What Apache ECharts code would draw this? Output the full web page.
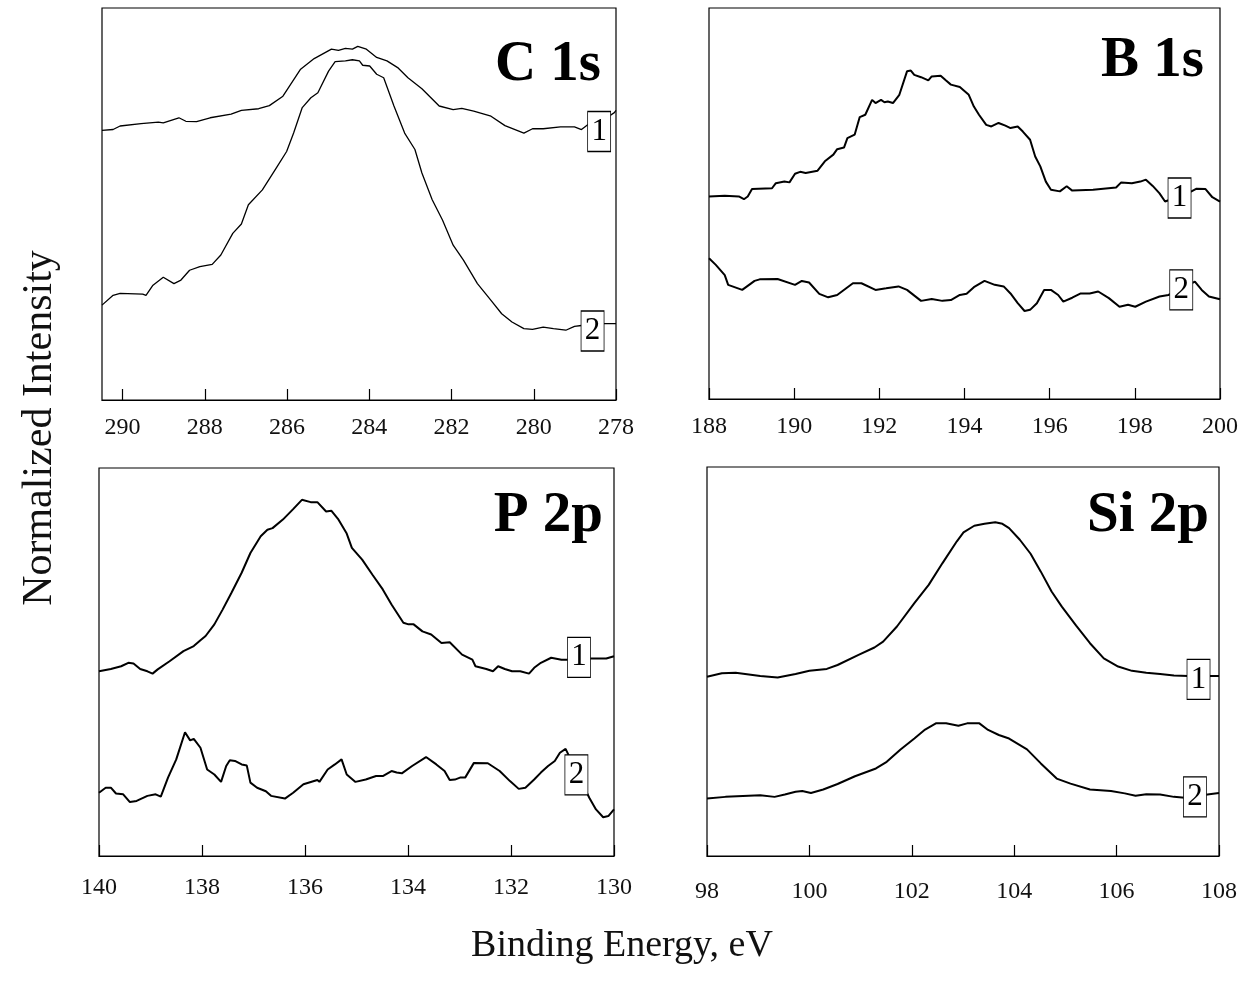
<!DOCTYPE html>
<html>
<head>
<meta charset="utf-8">
<script src="https://cdn.jsdelivr.net/npm/echarts@6/dist/echarts.min.js"></script>
<style>
  html, body { margin: 0; padding: 0; background: #fff; }
  #chart { width: 1248px; height: 985px; }
</style>
</head>
<body>
<div id="chart"></div>
<script>
// spectra: [binding energy (eV), normalized intensity 0..100]
var c1s_1 = [[290.5,68.8],[290.23,69.0],[290.06,69.9],[289.55,70.5],[289.13,70.9],[289.01,70.7],[288.63,72.0],[288.46,71.1],[288.2,71.0],[287.87,72.0],[287.36,72.9],[287.11,73.9],[286.69,74.3],[286.43,75.1],[286.1,77.5],[285.67,84.4],[285.34,87.1],[284.92,89.5],[284.75,89.2],[284.58,89.7],[284.41,89.5],[284.28,90.2],[284.07,89.5],[283.82,87.4],[283.57,86.5],[283.31,84.8],[283.06,82.2],[282.72,79.4],[282.3,75.0],[281.96,74.1],[281.75,74.4],[281.46,73.7],[281.04,72.4],[280.7,70.0],[280.24,68.1],[280.03,69.2],[279.77,69.2],[279.35,69.7],[279.01,69.7],[278.84,69.0],[278.68,70.3],[278.3,71.5],[278.04,73.3],[278.0,73.9]];
var c1s_2 = [[290.5,24.2],[290.23,26.7],[290.06,27.2],[289.51,27.0],[289.43,26.7],[289.26,29.3],[289.01,31.3],[288.75,29.7],[288.58,30.6],[288.37,33.1],[288.12,34.0],[287.82,34.6],[287.61,37.0],[287.32,42.5],[287.11,44.9],[286.94,49.8],[286.6,53.6],[286.26,59.2],[286.01,63.4],[285.84,68.1],[285.63,74.6],[285.42,77.1],[285.25,78.4],[284.99,83.9],[284.83,86.3],[284.58,86.5],[284.41,86.8],[284.24,86.5],[284.16,85.4],[283.99,85.2],[283.82,83.1],[283.65,82.2],[283.4,75.0],[283.14,68.1],[282.89,63.9],[282.72,57.9],[282.47,51.1],[282.22,45.9],[281.96,39.5],[281.71,35.7],[281.37,29.7],[281.04,25.4],[280.78,22.0],[280.53,19.9],[280.24,18.2],[280.03,18.0],[279.77,18.6],[279.52,18.2],[279.22,17.8],[279.01,18.8],[278.84,19.0],[278.28,19.5],[278.0,19.5]];

var b1s_1 = [[188.0,51.8],[188.37,52.0],[188.7,51.8],[188.82,51.1],[188.91,51.8],[189.01,53.7],[189.48,53.9],[189.57,55.2],[189.77,55.6],[189.89,55.4],[190.02,57.6],[190.14,58.1],[190.27,57.8],[190.55,58.4],[190.72,60.8],[190.92,62.5],[191.01,63.9],[191.17,64.3],[191.25,66.7],[191.42,67.6],[191.54,72.1],[191.67,72.7],[191.83,76.5],[191.91,75.7],[192.04,76.5],[192.12,75.9],[192.2,76.1],[192.32,75.7],[192.47,77.8],[192.65,83.8],[192.74,84.0],[192.82,82.9],[192.98,82.3],[193.15,81.5],[193.23,82.5],[193.44,82.7],[193.56,81.5],[193.68,80.4],[193.89,79.8],[194.1,77.8],[194.22,74.8],[194.34,72.7],[194.51,70.1],[194.63,69.7],[194.8,70.6],[194.96,69.9],[195.08,69.3],[195.25,69.7],[195.37,68.4],[195.54,66.3],[195.66,62.0],[195.78,59.5],[195.91,55.6],[196.03,53.5],[196.24,53.1],[196.4,54.4],[196.53,53.3],[197.02,53.5],[197.56,54.1],[197.68,55.4],[197.93,55.2],[198.13,55.6],[198.26,56.1],[198.42,54.5],[198.58,52.6],[198.71,50.5],[199.04,51.8],[199.33,53.1],[199.45,53.8],[199.66,53.7],[199.82,51.6],[200.0,50.5]];
var b1s_2 = [[188.0,36.0],[188.16,34.3],[188.37,31.7],[188.45,29.2],[188.78,27.9],[189.07,30.2],[189.19,30.6],[189.61,30.7],[190.02,29.2],[190.18,30.2],[190.35,29.8],[190.59,26.9],[190.8,26.0],[191.01,26.6],[191.38,29.6],[191.58,29.6],[191.91,27.9],[192.16,28.3],[192.45,28.8],[192.65,27.9],[192.98,25.1],[193.23,25.6],[193.48,25.1],[193.68,25.3],[193.89,26.6],[194.05,26.9],[194.22,28.6],[194.47,30.2],[194.71,29.2],[194.92,28.8],[195.08,27.0],[195.25,24.5],[195.41,22.5],[195.54,22.8],[195.7,24.5],[195.87,27.9],[196.03,27.9],[196.2,26.6],[196.32,24.9],[196.53,25.9],[196.73,27.0],[196.94,27.0],[197.14,27.5],[197.39,25.8],[197.64,23.6],[197.84,24.1],[198.01,23.6],[198.26,24.9],[198.58,26.2],[198.79,26.6],[199.41,30.0],[199.57,27.9],[199.74,26.2],[200.0,25.5]];

var p2p_1 = [[140.0,47.6],[139.77,48.2],[139.57,48.9],[139.43,49.8],[139.33,49.6],[139.2,48.2],[139.06,47.6],[138.96,47.0],[138.86,48.1],[138.63,50.2],[138.36,52.8],[138.16,54.1],[138.03,55.6],[137.93,56.7],[137.76,59.7],[137.6,63.5],[137.43,67.8],[137.23,73.0],[137.06,78.1],[136.86,82.4],[136.73,84.1],[136.63,84.5],[136.43,86.7],[136.23,89.4],[136.06,91.8],[135.89,91.2],[135.76,91.2],[135.59,88.8],[135.49,89.0],[135.36,86.9],[135.19,83.1],[135.09,79.4],[134.89,76.4],[134.69,72.5],[134.49,68.7],[134.32,64.8],[134.09,60.1],[133.99,59.7],[133.89,59.7],[133.72,57.9],[133.55,57.1],[133.35,54.9],[133.19,55.1],[132.95,51.9],[132.75,50.6],[132.69,48.9],[132.48,48.2],[132.35,47.6],[132.25,48.9],[132.12,48.2],[131.98,47.6],[131.82,47.6],[131.65,47.0],[131.55,48.5],[131.42,49.8],[131.22,51.1],[131.02,50.6],[130.88,50.6],[130.45,50.9],[130.15,50.9],[130.0,51.5]];
var p2p_2 = [[140.0,16.3],[139.87,17.6],[139.77,17.6],[139.67,16.1],[139.53,15.9],[139.4,13.9],[139.27,14.2],[139.06,15.5],[138.9,15.9],[138.8,15.3],[138.66,20.2],[138.5,24.9],[138.33,31.9],[138.23,29.8],[138.16,30.2],[138.03,27.9],[137.9,22.3],[137.76,21.0],[137.63,19.1],[137.53,23.2],[137.46,24.7],[137.36,24.5],[137.23,23.6],[137.13,23.3],[137.06,18.9],[136.93,17.6],[136.76,16.7],[136.66,15.5],[136.39,14.8],[136.23,16.3],[136.03,18.5],[135.76,19.6],[135.72,19.1],[135.56,22.3],[135.42,23.6],[135.29,24.9],[135.19,21.0],[135.02,19.1],[134.82,19.7],[134.62,20.6],[134.49,20.6],[134.32,21.9],[134.22,21.5],[134.12,21.3],[133.92,23.2],[133.65,25.5],[133.45,23.6],[133.29,21.9],[133.19,19.6],[133.09,19.7],[132.99,20.2],[132.89,20.2],[132.72,24.0],[132.45,23.9],[132.22,21.9],[132.02,19.3],[131.85,17.3],[131.72,17.6],[131.55,19.7],[131.42,21.5],[131.28,23.2],[131.15,24.5],[131.05,26.6],[130.94,27.6],[130.48,15.0],[130.35,12.0],[130.21,10.0],[130.11,10.3],[130.0,12.0]];

var si2p_1 = [[98.0,46.1],[98.29,47.0],[98.56,47.1],[99.04,46.3],[99.38,45.9],[99.73,46.8],[100.0,47.6],[100.34,48.1],[100.55,49.1],[100.96,51.7],[101.27,53.6],[101.44,55.1],[101.71,59.0],[102.05,65.0],[102.33,69.7],[102.6,75.3],[102.88,80.9],[103.01,83.2],[103.22,84.9],[103.42,85.4],[103.63,85.8],[103.77,85.4],[103.9,84.3],[104.11,81.3],[104.32,77.7],[104.52,73.1],[104.73,68.0],[104.93,64.1],[105.21,59.2],[105.48,54.7],[105.75,50.8],[106.03,48.7],[106.3,47.6],[106.58,47.1],[106.85,46.8],[107.12,46.4],[107.4,46.3],[107.88,46.3],[108.0,46.3]];
var si2p_2 = [[98.0,14.8],[98.36,15.2],[98.7,15.4],[99.04,15.6],[99.32,15.2],[99.52,15.8],[99.73,16.5],[99.86,16.7],[100.03,16.2],[100.27,17.1],[100.55,18.5],[100.89,20.5],[101.3,22.5],[101.51,24.2],[101.78,27.4],[102.05,30.2],[102.26,32.5],[102.47,34.1],[102.67,34.1],[102.91,33.5],[103.08,34.1],[103.32,34.1],[103.49,32.4],[103.7,31.1],[103.9,30.2],[104.25,27.4],[104.52,23.8],[104.83,19.9],[105.1,18.6],[105.48,17.1],[105.89,16.7],[106.16,16.1],[106.37,15.5],[106.58,15.9],[106.85,15.8],[107.12,15.2],[107.33,15.0],[107.81,15.9],[108.0,16.2]];

// tick labels of each panel
var c1sTicks = [290, 288, 286, 284, 282, 280, 278];
var b1sTicks = [188, 190, 192, 194, 196, 198, 200];
var p2pTicks = [140, 138, 136, 134, 132, 130];
var si2pTicks = [98, 100, 102, 104, 106, 108];

// where the boxed curve numbers sit (eV, intensity)
var c1sTags = [[278.41, 68.5], [278.57, 17.6]];
var b1sTags = [[199.05, 51.4], [199.09, 27.9]];
var p2pTags = [[130.68, 51.2], [130.73, 20.9]];
var si2pTags = [[107.6, 45.4], [107.53, 15.2]];

var titles = ['C 1s', 'B 1s', 'P 2p', 'Si 2p'];

var serif = "'Liberation Serif', 'DejaVu Serif', serif";

var chart = echarts.init(document.getElementById('chart'), null, { renderer: 'canvas' });

function xAxisFor(idx, min, max, ticks, inverse, margin) {
    return {
        type: 'value',
        gridIndex: idx,
        min: min,
        max: max,
        inverse: inverse,
        axisLine: { show: true, onZero: false, lineStyle: { color: '#000', width: 1.2 } },
        axisTick: {
            show: true, inside: true, length: 11, customValues: ticks,
            lineStyle: { color: '#000', width: 1.2 }
        },
        axisLabel: {
            show: true, customValues: ticks, margin: margin,
            color: '#111', fontFamily: serif, fontSize: 24
        },
        splitLine: { show: false }
    };
}

function yAxisFor(idx) {
    return {
        type: 'value', gridIndex: idx, min: 0, max: 100,
        axisLine: { show: false }, axisTick: { show: false },
        axisLabel: { show: false }, splitLine: { show: false }
    };
}

function curve(idx, data, width, tags, tagIdx) {
    return {
        type: 'line',
        xAxisIndex: idx,
        yAxisIndex: idx,
        data: data,
        symbol: 'none',
        smooth: false,
        lineStyle: { color: '#000', width: width },
        z: 2,
        markPoint: {
            z: 5,
            symbol: 'rect',
            symbolSize: [23, 40],
            itemStyle: { color: '#fff', borderColor: '#000', borderWidth: 1 },
            label: {
                show: true, position: 'inside', color: '#000',
                fontFamily: serif, fontSize: 31,
                formatter: String(tagIdx + 1)
            },
            data: [{ coord: tags[tagIdx] }]
        }
    };
}

var titleStyle = { color: '#000', fontFamily: serif, fontSize: 57, fontWeight: 'bold', lineHeight: 57 };

chart.setOption({
    backgroundColor: '#fff',
    animation: false,
    title: [
        { text: titles[0], right: 647, top: 37, padding: 0, textStyle: titleStyle },
        { text: titles[1], right: 44, top: 33, padding: 0, textStyle: titleStyle },
        { text: titles[2], right: 645, top: 488, padding: 0, textStyle: titleStyle },
        { text: titles[3], right: 39, top: 488, padding: 0, textStyle: titleStyle }
    ],
    grid: [
        { left: 102, top: 8, width: 514, height: 392, show: true, borderColor: '#000', borderWidth: 1.2 },
        { left: 709, top: 8, width: 511, height: 391, show: true, borderColor: '#000', borderWidth: 1.2 },
        { left: 99, top: 468, width: 515, height: 388, show: true, borderColor: '#000', borderWidth: 1.2 },
        { left: 707, top: 467, width: 512, height: 389, show: true, borderColor: '#000', borderWidth: 1.2 }
    ],
    xAxis: [
        xAxisFor(0, 278, 290.5, c1sTicks, true, 16),
        xAxisFor(1, 188, 200, b1sTicks, false, 16),
        xAxisFor(2, 130, 140, p2pTicks, true, 20),
        xAxisFor(3, 98, 108, si2pTicks, false, 24)
    ],
    yAxis: [yAxisFor(0), yAxisFor(1), yAxisFor(2), yAxisFor(3)],
    series: [
        curve(0, c1s_1, 1.3, c1sTags, 0),
        curve(0, c1s_2, 1.3, c1sTags, 1),
        curve(1, b1s_1, 2, b1sTags, 0),
        curve(1, b1s_2, 2, b1sTags, 1),
        curve(2, p2p_1, 2, p2pTags, 0),
        curve(2, p2p_2, 2, p2pTags, 1),
        curve(3, si2p_1, 2, si2pTags, 0),
        curve(3, si2p_2, 2, si2pTags, 1)
    ],
    graphic: [
        {
            type: 'text', x: 40, y: 428, rotation: Math.PI / 2,
            style: {
                text: 'Normalized Intensity', fill: '#111',
                font: "42px 'Liberation Serif', serif",
                textAlign: 'center', textVerticalAlign: 'middle'
            }
        },
        {
            type: 'text', x: 622, y: 946,
            style: {
                text: 'Binding Energy, eV', fill: '#111',
                font: "38px 'Liberation Serif', serif",
                textAlign: 'center', textVerticalAlign: 'middle'
            }
        }
    ]
});
</script>
</body>
</html>
